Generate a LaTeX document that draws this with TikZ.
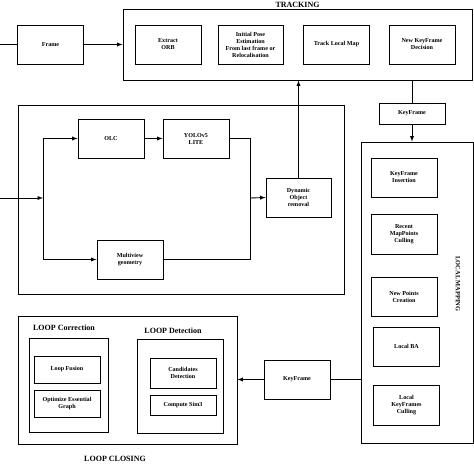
\documentclass[tikz,border=0pt]{standalone}
\usepackage{fontspec}
\setmainfont{Liberation Serif}
\usetikzlibrary{positioning}

\begin{document}
\begin{tikzpicture}[x=1pt,y=-1pt,line width=0.9pt,
  bloc/.style={draw,align=center,inner sep=1pt,minimum width=66pt,minimum height=39pt,
    font=\bfseries\fontsize{6.1}{7}\selectfont},
  cadre/.style={draw,inner sep=0pt},
  titre/.style={font=\bfseries\fontsize{8}{9}\selectfont,inner sep=0.5pt}]

\useasboundingbox (0,0) rectangle (474,465);

% Tracking
\node[cadre,minimum width=349pt,minimum height=71pt] (tracking) at (297.5,44.5) {};
\node[titre,anchor=south] (trackinglabel) at (tracking.north) {TRACKING};
\node[bloc] (frame) at (50.5,44.5) {Frame};
\node[bloc] (orb) at (168,44.5) {Extract\\ORB};
\node[bloc,minimum width=65pt] (pose) at (250.5,44.5) {Initial Pose\\Estimation\\From last frame or\\Relocalisation};
\node[bloc] (tlm) at (336.5,44.5) {Track Local Map};
\node[bloc] (nkd) at (422,44.5) {New KeyFrame\\Decision};
\coordinate (frameinput) at (0,44.5);

% Segmentation
\node[cadre,minimum width=326pt,minimum height=189pt] (segmentation) at (181,199.5) {};
\node[bloc] (olc) at (111,138.5) {OLC};
\node[bloc] (yolo) at (196,138.5) {YOLOv5\\LITE};
\node[bloc] (mvg) at (130,259.5) {Multiview\\geometry};
\node[bloc,minimum width=65pt] (dor) at (298.5,197.5) {Dynamic\\Object\\removal};
\coordinate (input) at (0,198);
\coordinate (split) at (43,198);
\coordinate (join) at (250,198);

% Local mapping
\node[cadre,minimum width=112pt,minimum height=301pt] (mapping) at (417,292.5) {};
\node[font=\bfseries\fontsize{6.4}{7}\selectfont,rotate=-90] (mappinglabel) at (458,284) {LOCAL MAPPING};
\node[bloc,minimum height=21pt] (kftop) at (412,113.5) {KeyFrame};
\node[bloc] (kfi) at (404,177.5) {KeyFrame\\Insertion};
\node[bloc,minimum height=40pt] (rmc) at (404,234) {Recent\\MapPoints\\Culling};
\node[bloc] (npc) at (404,296.5) {New Points\\Creation};
\node[bloc] (lba) at (406.5,346.5) {Local BA};
\node[bloc,minimum height=40pt] (lkc) at (406.5,405) {Local\\KeyFrames\\Culling};

% Loop closing
\node[cadre,minimum width=219pt,minimum height=128pt] (closing) at (127.5,380) {};
\node[titre] (closinglabel) at (115,459) {LOOP CLOSING};
\node[cadre,minimum width=79pt,minimum height=94pt] (correction) at (68.5,385) {};
\node[titre] (correctionlabel) at (64,328) {LOOP Correction};
\node[bloc,minimum height=27pt] (fusion) at (67,369.5) {Loop Fusion};
\node[bloc,minimum height=27pt] (essential) at (67,403.5) {Optimize Essential\\Graph};
\node[cadre,minimum width=86pt,minimum height=94pt] (detection) at (180,386) {};
\node[titre] (detectionlabel) at (173,331) {LOOP Detection};
\node[bloc,minimum height=30pt] (candidates) at (183,373) {Candidates\\Detection};
\node[bloc,minimum height=20pt] (sim3) at (183,405) {Compute Sim3};
\node[bloc] (kfbot) at (297,379.5) {KeyFrame};

% Liaisons
\draw (frameinput) -- (frame.west);
\draw[-latex] (frame.east) -- (tracking.west);
\draw[-latex] (dor.north) -- (dor.north |- tracking.south);
\draw (kftop.north |- tracking.south) -- (kftop.north);
\draw[-latex] (kftop.south) -- (kftop.south |- mapping.north);
\draw (kfbot.east -| mapping.west) -- (kfbot.east);
\draw[-latex] (kfbot.west) -- (kfbot.west -| closing.east);

\draw[-latex] (input) -- (split);
\draw[-latex] (split) |- (olc.west);
\draw[-latex] (split) |- (mvg.west);
\draw[-latex] (olc.east) -- (yolo.west);
\draw (yolo.east) -| (join);
\draw (mvg.east) -| (join);
\draw[-latex] (join) -- (dor.west);

\end{tikzpicture}
\end{document}
